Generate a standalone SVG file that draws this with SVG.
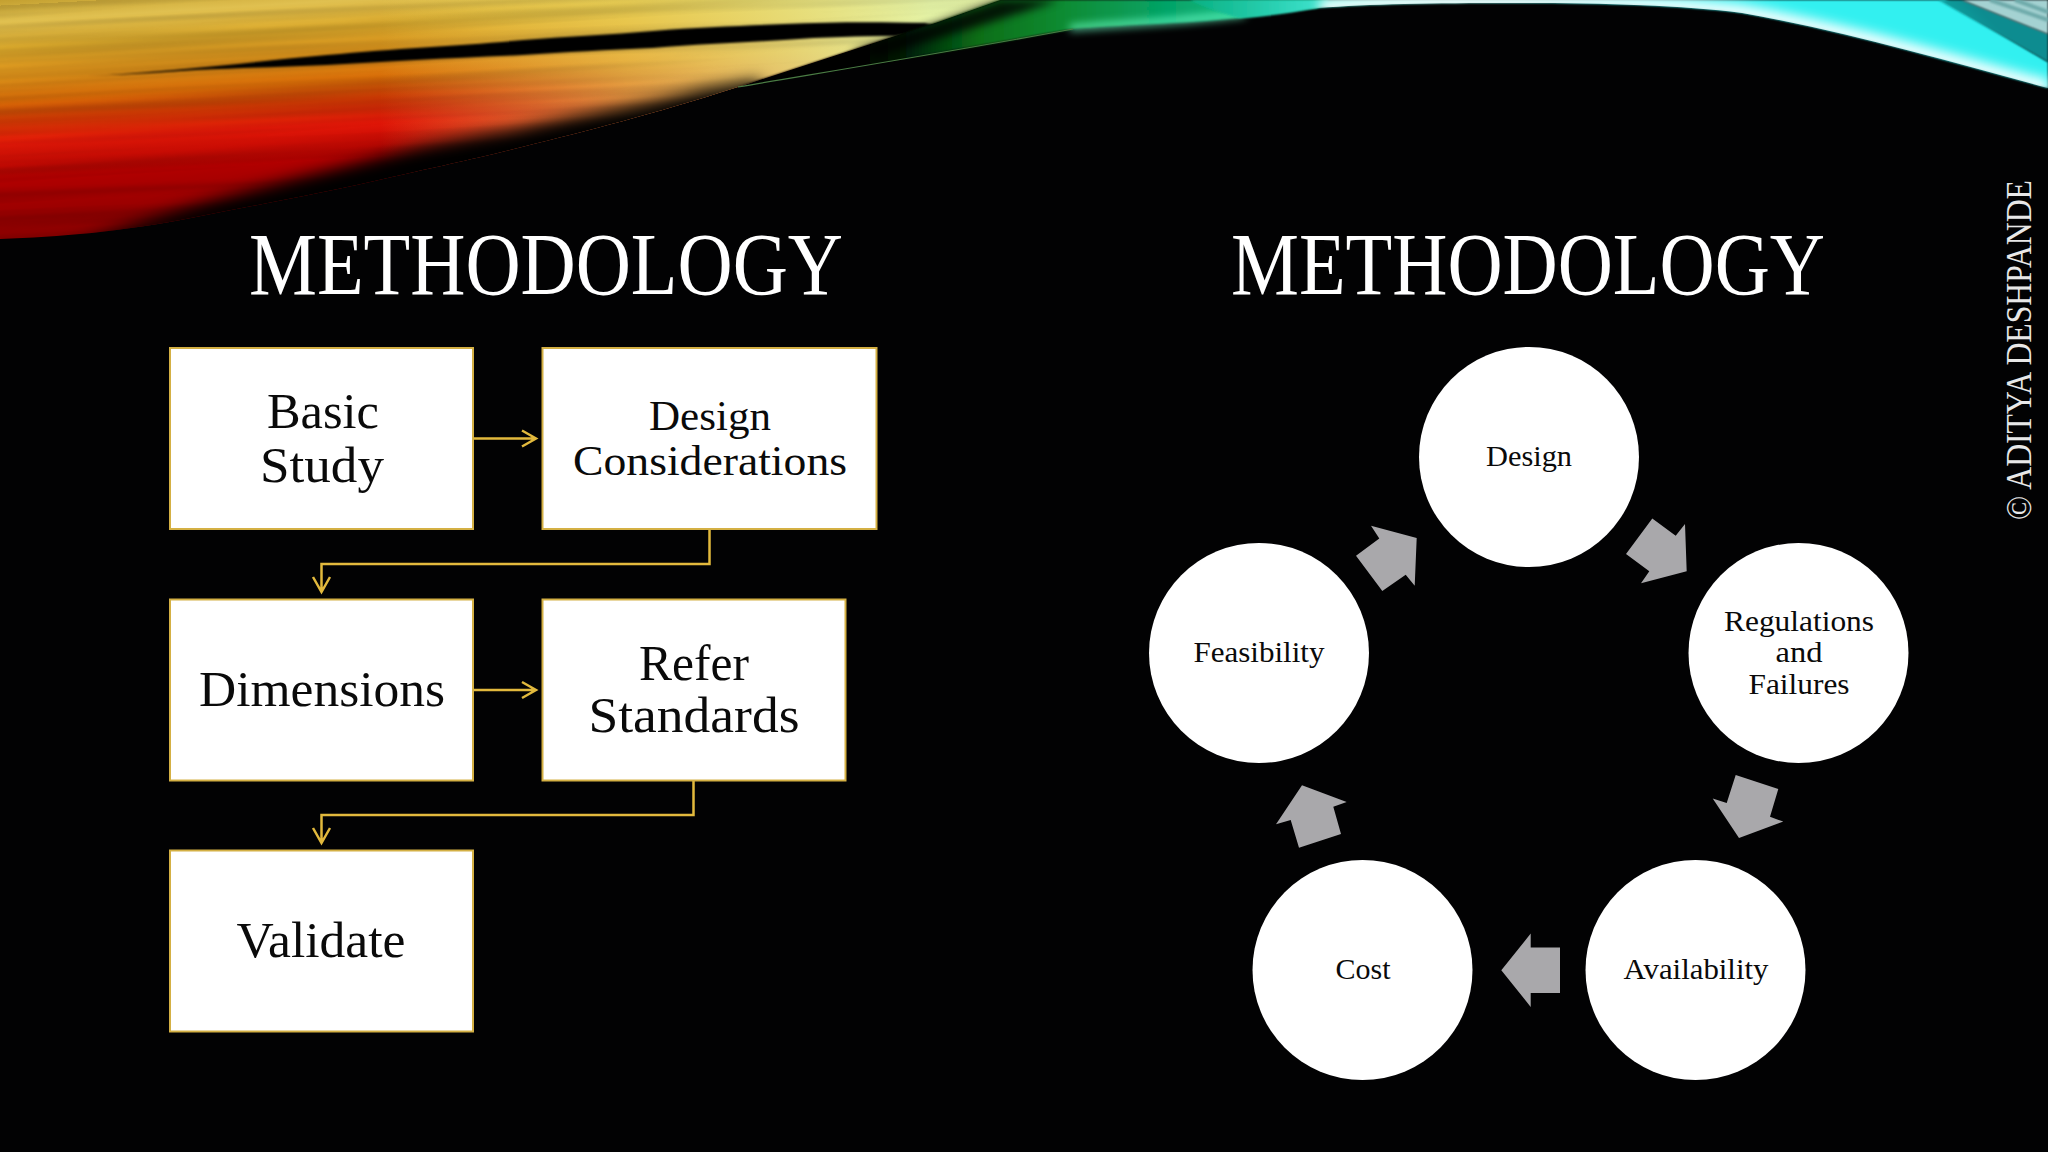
<svg xmlns="http://www.w3.org/2000/svg" width="2048" height="1152" viewBox="0 0 2048 1152">
<style>
.box{fill:#fff;stroke:#d4b044;stroke-width:2}
.circ{fill:#fff}
.arr{fill:#a9a8ab}
.conn{fill:none;stroke:#e2b93d;stroke-width:2.5}
text{font-family:"Liberation Serif","Times New Roman",serif;text-anchor:middle;fill:#0a0a0a}
.title{font-size:89px;fill:#fff}
.big{font-size:51px}
.mid{font-size:43px}
.small{font-size:30px}
.wm{font-size:35px;fill:#e8e8e8}
</style>
<defs>
<linearGradient id="warm" gradientUnits="userSpaceOnUse" x1="0" y1="0" x2="15" y2="240">
<stop offset="0" stop-color="#c4a030"/><stop offset=".09" stop-color="#e0c050"/><stop offset=".2" stop-color="#dcaa2c"/><stop offset=".33" stop-color="#dc8e18"/><stop offset=".42" stop-color="#d86c08"/><stop offset=".5" stop-color="#d23c04"/><stop offset=".6" stop-color="#e41808"/><stop offset=".75" stop-color="#b00000"/><stop offset="1" stop-color="#880000"/>
</linearGradient>
<linearGradient id="pale" gradientUnits="userSpaceOnUse" x1="380" y1="0" x2="930" y2="0">
<stop offset="0" stop-color="#f0ea70" stop-opacity="0"/><stop offset=".45" stop-color="#f0e068" stop-opacity=".6"/><stop offset="1" stop-color="#e4f4a8" stop-opacity=".98"/>
</linearGradient>
<linearGradient id="green" gradientUnits="userSpaceOnUse" x1="860" y1="0" x2="1300" y2="0">
<stop offset="0" stop-color="#000"/><stop offset=".1" stop-color="#021c06"/><stop offset=".27" stop-color="#086e18"/><stop offset=".45" stop-color="#0a8a30"/><stop offset=".7" stop-color="#06a468"/><stop offset="1" stop-color="#10c890"/>
</linearGradient>
<linearGradient id="cyan" gradientUnits="userSpaceOnUse" x1="1200" y1="0" x2="1620" y2="0">
<stop offset="0" stop-color="#0cb488"/><stop offset=".3" stop-color="#40e4d0"/><stop offset=".6" stop-color="#90fcf4"/><stop offset="1" stop-color="#30f0f0"/>
</linearGradient>
<linearGradient id="teal" gradientUnits="userSpaceOnUse" x1="1950" y1="30" x2="1975" y2="5">
<stop offset="0" stop-color="#20d8d8"/><stop offset=".5" stop-color="#109a9a"/><stop offset="1" stop-color="#0c8c90"/>
</linearGradient>
<clipPath id="warmClip"><path d="M0,0H1000L938,22L895,36L738,87C650,115 590,130 522,147C470,160 440,166 392,177C320,194 260,204 196,217C120,232 60,237 0,239Z"/></clipPath>
<clipPath id="cyanClip"><path d="M1190,0H1945L2048,62V88C1950,62 1850,32 1742,13C1680,5 1600,3 1514,3C1430,3 1370,4 1318,8C1290,13 1265,17 1240,18C1225,14 1205,8 1190,0Z"/></clipPath>
<filter id="soft" x="-5%" y="-20%" width="110%" height="140%"><feGaussianBlur stdDeviation="1"/></filter>
<filter id="blur8" x="-10%" y="-50%" width="120%" height="200%"><feGaussianBlur stdDeviation="8"/></filter>
<filter id="blur5" x="-10%" y="-100%" width="120%" height="300%"><feGaussianBlur stdDeviation="4"/></filter>
<filter id="blur6" x="-10%" y="-100%" width="120%" height="300%"><feGaussianBlur stdDeviation="6"/></filter>
<filter id="streak" x="0" y="0" width="100%" height="100%">
<feTurbulence type="fractalNoise" baseFrequency="0.0018 0.085" numOctaves="2" seed="7"/>
<feColorMatrix values="0 0 0 0 0  0 0 0 0 0  0 0 0 0 0  1.6 0 0 0 -0.55"/>
</filter>
</defs>
<rect width="2048" height="1152" fill="#020203"/>
<g id="background">
<g clip-path="url(#warmClip)">
<rect width="1024" height="245" fill="url(#warm)"/>
<rect width="1024" height="245" fill="url(#pale)"/>
<rect x="-40" y="-20" width="1100" height="290" filter="url(#streak)" opacity=".2" transform="rotate(-3 500 100)"/>
<path d="M60,250C120,228 170,212 230,196C290,180 340,168 392,154C440,141 480,136 522,128C590,112 640,106 700,90L760,80V100L500,190Z" fill="#000" filter="url(#blur8)"/>
</g>
<path d="M85,76C170,72 250,62 327,55C400,48 460,46 523,40C570,36 610,35 653,31C700,27 740,26 784,24C830,22 880,22 925,23L950,30L895,36C860,36 825,37 784,40C740,43 700,44 653,48C610,50 565,52 523,55C450,58 390,61 327,65C280,67 240,68 196,70C155,73 120,75 85,76Z" fill="#020203" filter="url(#soft)"/>
<path d="M738,87L895,36L938,22L1000,0H1330L1318,8C1280,12 1250,16 1240,18C1180,24 1120,25 1073,29C1000,42 900,60 738,87Z" fill="url(#green)" filter="url(#soft)"/>
<path d="M850,52L938,22L1000,0H1060L985,24L880,56Z" fill="#000" opacity=".8" filter="url(#blur5)"/>
<path d="M1070,28C1120,24 1180,22 1245,14" fill="none" stroke="#70ffc8" stroke-width="5" filter="url(#blur5)"/>
<path d="M738,87C850,68 960,50 1073,29" fill="none" stroke="#4a7c44" stroke-width="1.200"/>
<path d="M1190,0H1945L2048,62V88C1950,62 1850,32 1742,13C1680,5 1600,3 1514,3C1430,3 1370,4 1318,8C1290,13 1265,17 1240,18C1225,14 1205,8 1190,0Z" fill="url(#cyan)" filter="url(#soft)"/>
<g clip-path="url(#cyanClip)"><path d="M1320,8C1380,3 1450,3 1514,3C1600,3 1680,5 1742,13C1850,32 1950,62 2048,88" fill="none" stroke="#f4ffff" stroke-width="16" filter="url(#blur6)"/></g>
<path d="M1938,0H1962L2048,34V62Z" fill="url(#teal)" filter="url(#soft)"/>
<path d="M1962,0H2048V34Z" fill="#a4d2d2" filter="url(#soft)"/>
<path d="M1990,0L2048,20M2015,0L2048,12" stroke="#6eaaaa" stroke-width="4" fill="none" filter="url(#soft)"/>
</g>
<text class="title" x="546" y="294" textLength="594" lengthAdjust="spacingAndGlyphs">METHODOLOGY</text>
<text class="title" x="1528" y="294" textLength="594" lengthAdjust="spacingAndGlyphs">METHODOLOGY</text>
<text class="wm" transform="translate(2031 520) rotate(-90)" x="170" y="0" textLength="340" lengthAdjust="spacingAndGlyphs">© ADITYA DESHPANDE</text>
<g id="connectors">
<g class="conn">
<path d="M473,438.500H536M522,430.500L536,438.500L522,446.500"/>
<path d="M709.500,530V564H321.500V592M313,577L321.500,592L330,577"/>
<path d="M473,690H536M522,682L536,690L522,698"/>
<path d="M693.500,781V815H321.500V843M313,828L321.500,843L330,828"/>
</g>
<g id="cycle-arrows">
<polygon class="arr" points="1652.300,518.600 1675.700,535.800 1685,524.100 1686.700,571.300 1641,583.300 1649.300,571.300 1626,554"/>
<polygon class="arr" points="1735.700,775.100 1778.300,788.900 1770,816.800 1783.300,821.600 1739,838.100 1712.700,798.500 1726.700,803"/>
<polygon class="arr" points="1560,947.600 1560,993 1530.700,993 1530.700,1006.900 1501.300,970.300 1530.700,933.500 1530.700,947.600"/>
<polygon class="arr" points="1302,785.300 1346.700,802 1333.300,806.700 1341,834 1299,847.700 1290.700,820 1276,824.300"/>
<polygon class="arr" points="1371,525.800 1416.700,537.900 1414.700,585.700 1405.700,574.700 1382.300,590.900 1356,555.800 1379.300,538.500"/>
</g>
</g>
<g id="basic-study"><rect class="box" x="170" y="348" width="303" height="181"/><text class="big" x="323" y="428" textLength="112" lengthAdjust="spacingAndGlyphs">Basic</text><text class="big" x="322" y="482" textLength="124" lengthAdjust="spacingAndGlyphs">Study</text></g>
<g id="design-considerations"><rect class="box" x="542.500" y="348" width="334" height="181"/><text class="mid" x="710" y="430" textLength="122" lengthAdjust="spacingAndGlyphs">Design</text><text class="mid" x="710" y="475" textLength="274" lengthAdjust="spacingAndGlyphs">Considerations</text></g>
<g id="dimensions"><rect class="box" x="170" y="599.500" width="303" height="181"/><text class="big" x="322" y="706" textLength="246" lengthAdjust="spacingAndGlyphs">Dimensions</text></g>
<g id="refer-standards"><rect class="box" x="542.500" y="599.500" width="303" height="181"/><text class="big" x="694" y="680" textLength="110" lengthAdjust="spacingAndGlyphs">Refer</text><text class="big" x="694" y="732" textLength="211" lengthAdjust="spacingAndGlyphs">Standards</text></g>
<g id="validate"><rect class="box" x="170" y="850.500" width="303" height="181"/><text class="big" x="321" y="957" textLength="169" lengthAdjust="spacingAndGlyphs">Validate</text></g>
<g id="c-design"><circle class="circ" cx="1529" cy="457" r="110"/><text class="small" x="1529" y="466" textLength="86" lengthAdjust="spacingAndGlyphs">Design</text></g>
<g id="c-regulations"><circle class="circ" cx="1798.500" cy="653" r="110"/><text class="small" x="1799" y="631" textLength="150" lengthAdjust="spacingAndGlyphs">Regulations</text><text class="small" x="1799" y="662" textLength="47" lengthAdjust="spacingAndGlyphs">and</text><text class="small" x="1799" y="694" textLength="101" lengthAdjust="spacingAndGlyphs">Failures</text></g>
<g id="c-availability"><circle class="circ" cx="1695.500" cy="970" r="110"/><text class="small" x="1696" y="979" textLength="145" lengthAdjust="spacingAndGlyphs">Availability</text></g>
<g id="c-cost"><circle class="circ" cx="1362.500" cy="970" r="110"/><text class="small" x="1363" y="979" textLength="55" lengthAdjust="spacingAndGlyphs">Cost</text></g>
<g id="c-feasibility"><circle class="circ" cx="1259" cy="653" r="110"/><text class="small" x="1259" y="662" textLength="131" lengthAdjust="spacingAndGlyphs">Feasibility</text></g>
</svg>
